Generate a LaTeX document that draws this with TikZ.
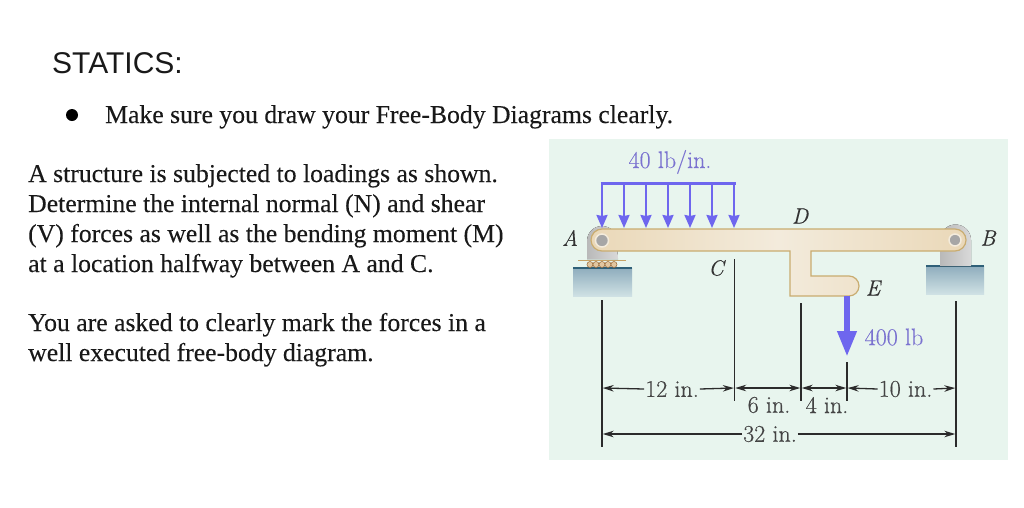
\documentclass[tikz,border=0pt]{standalone}
\usepackage{fontspec}
\newfontfamily\bodyfont[FakeBold=0.12]{Liberation Serif}
\newfontfamily\headfont{Liberation Sans}
\newfontfamily\labfont[FakeBold=0.3]{Latin Modern Roman}
\usetikzlibrary{arrows.meta}
\definecolor{panel}{HTML}{E8F5EE}
\definecolor{load}{HTML}{6E66EE}
\definecolor{loadtxt}{HTML}{7A72D0}
\definecolor{beamedge}{HTML}{C9AC70}
\definecolor{beamdark}{HTML}{EAD8B8}
\definecolor{beamlight}{HTML}{F3EBDC}
\definecolor{groundtop}{HTML}{8FADBD}
\definecolor{groundbot}{HTML}{CFE1E4}
\definecolor{groundline}{HTML}{2F6078}
\definecolor{dimcol}{HTML}{2B2B2B}
\definecolor{labcol}{HTML}{444444}
\tikzset{
  x=1pt,y=-1pt,
  body/.style={font=\bodyfont\fontsize{25.7}{30}\selectfont,anchor=base west,inner sep=0pt,text=black!90},
  head/.style={font=\headfont\fontsize{30}{36}\selectfont,anchor=base west,inner sep=0pt,text=black!90},
  lab/.style={font=\labfont\fontsize{24}{26}\selectfont,inner sep=1pt,text=labcol},
  pointlab/.style={font=\labfont\itshape\fontsize{22}{24}\selectfont,inner sep=0pt,text=black!80},
  loadlab/.style={font=\labfont\fontsize{24}{26}\selectfont,inner sep=0pt,text=loadtxt},
  ext/.style={draw=dimcol,line width=1.5pt},
  dimarrow/.style={draw=dimcol,line width=1.3pt,{Stealth[length=11pt,width=6.5pt]}-{Stealth[length=11pt,width=6.5pt]}},
  dimone/.style={draw=dimcol,line width=1.3pt,-{Stealth[length=11pt,width=6.5pt]}},
  udl/.style={draw=load,line width=2.2pt,-{Stealth[length=13pt,width=11pt,inset=1pt]}},
  ground/.style={top color=groundtop,bottom color=groundbot,draw=none},
  groundedge/.style={draw=groundline,line width=1.3pt},
  bracket/.style={left color=gray!55,right color=gray!30,draw=none},
  roller/.style={circle,fill=beamdark!80!brown,draw=brown!80!black,line width=.5pt,inner sep=0pt,minimum size=6pt},
}
\begin{document}
\begin{tikzpicture}
\useasboundingbox (0,0) rectangle (1024,507);
\fill[white] (0,0) rectangle (1024,507);
\fill[panel] (549,139) rectangle (1008,460);

% text
\node[head] (title) at (52,73.5) {STATICS:};
\fill[black] (72,115) circle[radius=6pt];
\node[body] (bullet) at (105,123) {Make sure you draw your Free-Body Diagrams clearly.};
\node[body] (t1) at (28,182) {A structure is subjected to loadings as shown.};
\node[body] (t2) at (28,212) {Determine the internal normal (N) and shear};
\node[body] (t3) at (28,242) {(V) forces as well as the bending moment (M)};
\node[body] (t4) at (28,272) {at a location halfway between A and C.};
\node[body] (t5) at (28,331) {You are asked to clearly mark the forces in a};
\node[body] (t6) at (28,361) {well executed free-body diagram.};

% supports
\fill[ground] (573,268) rectangle (632,296);
\draw[groundedge] (573,268) -- (632,268);
\fill[ground] (926,266) rectangle (984,294);
\draw[groundedge] (926,266) -- (984,266);
\fill[bracket] (587,259) -- (587,241) arc[start angle=180,end angle=0,radius=15pt] -- (618,259) -- cycle;
\fill[bracket] (940,266) -- (940,240) arc[start angle=180,end angle=0,radius=15.5pt] -- (971,266) -- cycle;
\draw[draw=beamedge!80!brown,line width=1.6pt] (578,260.5) -- (626,260.5);
\foreach \i/\rx in {1/590,2/596,3/602,4/608,5/614}
  \node[roller] (r\i) at (\rx,264.5) {};

% beam
\draw[draw=beamedge,line width=1.2pt,left color=beamdark,right color=beamdark,middle color=beamlight]
  (602,229) -- (955,229) arc[start angle=90,end angle=-90,radius=11pt]
  -- (811,251) -- (811,276) -- (849,276) arc[start angle=90,end angle=-90,radius=10pt]
  -- (790,296) -- (790,251) -- (602,251) arc[start angle=-90,end angle=-270,radius=11pt] -- cycle;
\fill[gray!70,draw=beamlight,line width=1.5pt] (602,240.5) circle[radius=6.5pt];
\fill[gray!70,draw=beamlight,line width=1.5pt] (955,240) circle[radius=6pt];

% distributed load
\draw[load,line width=3pt] (600.5,183) -- (735.5,183);
\foreach \i/\ax in {1/602,2/624,3/646,4/668,5/690,6/712,7/734}{
  \coordinate (ls\i) at (\ax,183);
  \coordinate (le\i) at (\ax,228);
  \draw[udl] (ls\i) -- (le\i);
}
% point load
\coordinate (Es) at (847,296);
\coordinate (Ee) at (847,357);
\draw[draw=load,line width=6.5pt,-{Stealth[length=26pt,width=18pt,inset=0pt]}] (Es) -- (Ee);

% labels
\node[loadlab] (l40) at (670,162) {40 lb/in.};
\node[loadlab] (l400) at (894,337) {400 lb};
\node[pointlab] (A) at (570,238) {A};
\node[pointlab] (B) at (988,238) {B};
\node[pointlab] (C) at (716,268) {C};
\node[pointlab] (D) at (800,216) {D};
\node[pointlab] (E) at (873,288) {E};

% extension lines
\coordinate (a0) at (602,300); \coordinate (a1) at (602,447);
\coordinate (c0) at (734.5,259); \coordinate (c1) at (734.5,401);
\coordinate (d0) at (801,303); \coordinate (d1) at (801,401);
\coordinate (e0) at (847,362); \coordinate (e1) at (847,401);
\coordinate (b0) at (956,301); \coordinate (b1) at (956,447);
\draw[ext] (a0) -- (a1);
\draw[ext] (c0) -- (c1);
\draw[ext] (d0) -- (d1);
\draw[ext] (e0) -- (e1);
\draw[ext] (b0) -- (b1);

% dimensions
\coordinate (ya) at (602.7,388); \coordinate (yc1) at (733.8,388); \coordinate (yc2) at (735.2,388);
\coordinate (yd1) at (800.3,388); \coordinate (yd2) at (801.7,388);
\coordinate (ye1) at (846.3,388); \coordinate (ye2) at (847.7,388); \coordinate (yb) at (955.3,388);
\coordinate (za) at (602.7,434); \coordinate (zb) at (955.3,434);
\node[lab] (n12) at (672,389) {12 in.};
\node[lab] (n10) at (905.5,389) {10 in.};
\node[lab] (n32) at (770,434) {32 in.};
\node[lab] (n6) at (769,405) {6 in.};
\node[lab] (n4) at (827,405) {4 in.};
\draw[dimone] (n12.west) -- (ya);
\draw[dimone] (n12.east) -- (yc1);
\draw[dimarrow] (yc2) -- (yd1);
\draw[dimarrow] (yd2) -- (ye1);
\draw[dimone] (n10.west) -- (ye2);
\draw[dimone] (n10.east) -- (yb);
\draw[dimone] (n32.west) -- (za);
\draw[dimone] (n32.east) -- (zb);
\end{tikzpicture}
\end{document}
